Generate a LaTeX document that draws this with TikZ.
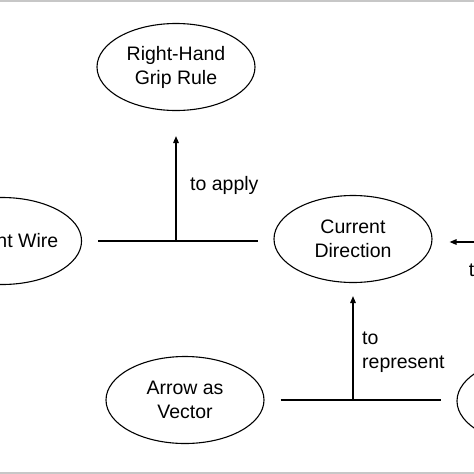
\documentclass[tikz,border=0pt]{standalone}
\usepackage{fontspec}
\setmainfont{Liberation Sans}
\usetikzlibrary{arrows.meta,shapes.geometric}
\begin{document}
\begin{tikzpicture}[x=1pt,y=-1pt,
  concept/.style={ellipse,draw,line width=1.1pt,minimum width=158pt,minimum height=87pt,inner sep=0pt,align=center,font=\fontsize{19.5}{24}\selectfont},
  link/.style={line width=1.4pt},
  linkarrow/.style={line width=1.4pt,-{Triangle[length=7pt,width=5.5pt]}},
  lbl/.style={inner sep=0pt,align=left,font=\fontsize{19.5}{24}\selectfont}]
\useasboundingbox (0,0) rectangle (474,474);
\clip (0,0) rectangle (474,474);
\fill[white] (0,0) rectangle (474,474);
\fill[black!22] (0,0) rectangle (474,2.3);
\fill[black!22] (0,471.8) rectangle (474,474);
\node[concept] (rhgr) at (176,67) {Right-Hand\\Grip Rule};
\node[concept] (cw) at (2,241) {\hspace*{2pt}Current Wire};
\node[concept] (cd) at (353,239) {Current\\Direction};
\node[concept] (av) at (185,400) {Arrow as\\Vector};
\node[concept] (rn) at (536,401) {};
\coordinate (j1) at (176,241);
\coordinate (j2) at (353,400);
\coordinate (rin) at (500,242);
\draw[link] (cw.east |- j1) ++(16,0) -- (258,241);
\draw[linkarrow,shorten >=25pt] (j1) -- (rhgr);
\draw[link] (av.east |- j2) ++(16,0) -- (441,400);
\draw[linkarrow,shorten >=13pt] (j2) -- (cd);
\draw[linkarrow,shorten >=17pt] (rin) -- (cd.east |- rin);
\node[lbl,anchor=west] (l1) at (190,185) {to apply};
\node[lbl,anchor=west] (l2) at (362,352) {to\\represent};
\node[lbl,anchor=west] (l3) at (468.6,270) {to};
\end{tikzpicture}
\end{document}
